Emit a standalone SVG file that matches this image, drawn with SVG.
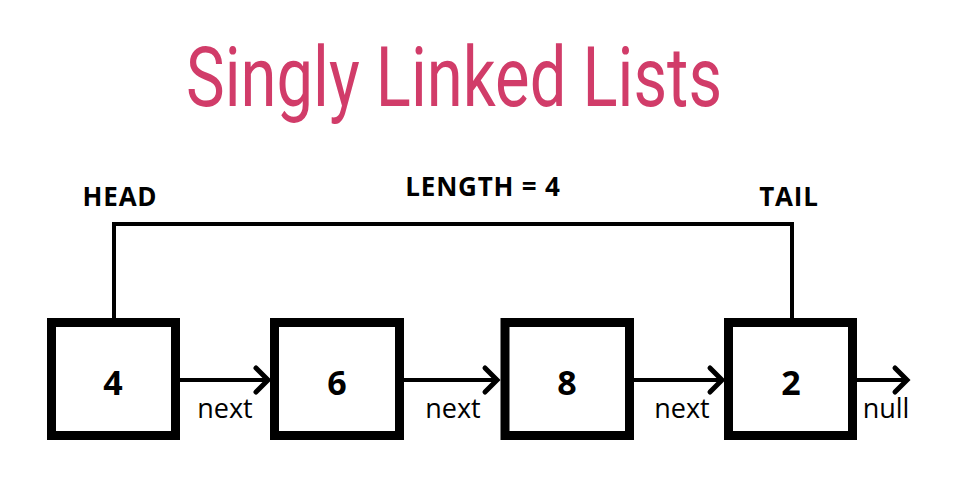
<svg xmlns="http://www.w3.org/2000/svg" width="953" height="502" viewBox="0 0 953 502">
<style>
.box{fill:#fff;stroke:#000;stroke-width:9}
.num{font-family:"Open Sans","DejaVu Sans",sans-serif;font-weight:700;font-size:34px;text-anchor:middle;fill:#000}
.lbl{font-family:"Open Sans","DejaVu Sans",sans-serif;font-weight:700;font-size:26px;letter-spacing:0.8px;text-anchor:middle;fill:#000}
.nx{font-family:"Open Sans","DejaVu Sans",sans-serif;font-size:27px;text-anchor:middle;fill:#000}
.ln{fill:none;stroke:#000;stroke-width:4}
.ah{fill:none;stroke:#000;stroke-width:5;stroke-linecap:round;stroke-linejoin:miter}
</style>
<rect width="953" height="502" fill="#fff"/>
<text x="454" y="106" font-family="Roboto,'DejaVu Sans',sans-serif" font-size="84" fill="#d13c69" text-anchor="middle" textLength="536" lengthAdjust="spacingAndGlyphs">Singly Linked Lists</text>
<g id="labels">
<text class="lbl" x="120" y="206">HEAD</text>
<text class="lbl" x="483" y="196">LENGTH = 4</text>
<text class="lbl" x="789" y="206">TAIL</text>
</g>
<g id="connectors">
<polyline class="ln" points="114,318 114,224 792,224 792,318"/>
<line class="ln" x1="179" y1="380" x2="267" y2="380"/>
<polyline class="ah" points="256,368 268,380 256,392"/>
<line class="ln" x1="404" y1="380" x2="496" y2="380"/>
<polyline class="ah" points="485,368 497,380 485,392"/>
<line class="ln" x1="634" y1="380" x2="721" y2="380"/>
<polyline class="ah" points="710,368 722,380 710,392"/>
<line class="ln" x1="857" y1="380" x2="906" y2="380"/>
<polyline class="ah" points="895,368 907,380 895,392"/>
<text class="nx" x="225" y="418">next</text>
<text class="nx" x="453" y="418">next</text>
<text class="nx" x="682" y="418">next</text>
<text class="nx" x="886" y="418">null</text>
</g>
<g id="node4"><rect class="box" x="51.5" y="322.5" width="124" height="113"/><text class="num" x="113" y="395">4</text></g>
<g id="node6"><rect class="box" x="274.5" y="322.5" width="125" height="113"/><text class="num" x="337" y="395">6</text></g>
<g id="node8"><rect class="box" x="505" y="322.5" width="124.5" height="113"/><text class="num" x="567" y="395">8</text></g>
<g id="node2"><rect class="box" x="728.5" y="322.5" width="124" height="113"/><text class="num" x="791" y="395">2</text></g>
</svg>
